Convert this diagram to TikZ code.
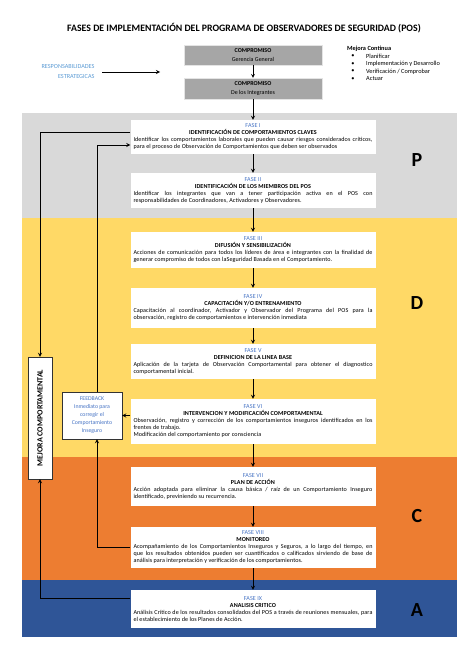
\documentclass[tikz,border=0pt]{standalone}
\usepackage{fontspec}
\setmainfont{Carlito}
\newfontfamily\cuerpo[LetterSpace=1.5]{Carlito}
\usepackage{xcolor}
\usepackage{tikz}
\usetikzlibrary{arrows,positioning}
\definecolor{grisbanda}{HTML}{D9D9D9}
\definecolor{amarillo}{HTML}{FFD966}
\definecolor{naranja}{HTML}{ED7D31}
\definecolor{azulbanda}{HTML}{2F5597}
\definecolor{griscomp}{HTML}{A6A6A6}
\definecolor{azulfase}{HTML}{4472C4}
\definecolor{azulresp}{HTML}{5B9BD5}
\hyphenpenalty=10000
\tolerance=10000
\tikzstyle{flecha} = [thick,->,>=stealth]
\tikzstyle{fase} = [rectangle, fill=white, text width=239pt, inner sep=3pt, align=justify, font=\cuerpo\fontsize{6.1}{7}\selectfont]
\tikzstyle{compromiso} = [rectangle, fill=griscomp, draw=white!70!griscomp, minimum width=138pt, minimum height=20pt, align=center, font=\fontsize{6}{9}\selectfont]
\tikzstyle{letra} = [font=\fontsize{20}{20}\selectfont\bfseries]
\tikzstyle{lista} = [inner sep=0pt, font=\fontsize{6.3}{7}\selectfont]
\newcommand{\encabezado}[2]{{\centering\textcolor{azulfase}{#1}\\\textbf{#2}\par}}

\begin{document}
\begin{tikzpicture}[x=1pt,y=-1pt]
	\useasboundingbox[fill=white] (0,0) rectangle (474,669);
	
	% Bandas de fondo:
	% P, D, C y A
	\fill[grisbanda] (22,113) rectangle (457,218);
	\fill[amarillo] (22,218) rectangle (457,457);
	\fill[naranja] (22,457) rectangle (457,580);
	\fill[azulbanda] (22,580) rectangle (457,637);
	
	\node[letra] (letraP) at (417,160) {P};
	\node[letra] (letraD) at (417,303) {D};
	\node[letra] (letraC) at (417,516) {C};
	\node[letra] (letraA) at (417,610) {A};
	
	% Titulo y compromisos:
	\node[font=\fontsize{9.8}{11}\selectfont\bfseries] (titulo) at (244,28) {FASES DE IMPLEMENTACIÓN DEL PROGRAMA DE OBSERVADORES DE SEGURIDAD (POS)};
	
	\node[compromiso] (comp1) at (253,55) {\textbf{COMPROMISO}\\Gerencia General};
	\node[compromiso] (comp2) at (253,88.5) {\textbf{COMPROMISO}\\De los Integrantes};
	
	\node[anchor=east, align=right, text=azulresp, font=\fontsize{6.2}{10}\selectfont] (resp) at (98,72) {RESPONSABILIDADES\\ESTRATEGICAS};
	\coordinate (finresp) at (160,72);
	
	\node[lista, anchor=west, font=\fontsize{6.3}{7}\selectfont\bfseries] (mejoracont) at (347,49) {Mejora Continua};
	\foreach \txt [count=\i] in {Planificar, Implementación y Desarrollo, Verificación / Comprobar, Actuar}
	{
		\node[lista] (vineta\i) at (353,49+7.5*\i) {\textbullet};
		\node[lista, anchor=west] (paso\i) at (366,49+7.5*\i) {\txt};
	}
	
	% Fases:
	\node[fase, minimum height=34pt] (faseI) at (253,137) {\encabezado{FASE I}{IDENTIFICACIÓN DE COMPORTAMIENTOS CLAVES}
		Identificar los comportamientos laborales que pueden causar riesgos considerados críticos,\linebreak para el proceso de Observación de Comportamientos que deben ser observados};
	\node[fase, minimum height=35pt] (faseII) at (253,190.5) {\encabezado{FASE II}{IDENTIFICACIÓN DE LOS MIEMBROS DEL POS}
		Identificar los integrantes que van a tener participación activa en el POS con\linebreak responsabilidades de Coordinadores, Activadores y Observadores.};
	\node[fase, minimum height=36pt] (faseIII) at (253,250) {\encabezado{FASE III}{DIFUSIÓN Y SENSIBILIZACIÓN}
		Acciones de comunicación para todos los líderes de área e integrantes con la finalidad de\linebreak generar compromiso de todos con laSeguridad Basada en el Comportamiento.};
	\node[fase, minimum height=40pt] (faseIV) at (253,308) {\encabezado{FASE IV}{CAPACITACIÓN Y/O ENTRENAMIENTO}
		Capacitación al coordinador, Activador y Observador del Programa del POS para la\linebreak observación, registro de comportamientos e intervención inmediata};
	\node[fase, minimum height=35pt] (faseV) at (253,361.5) {\encabezado{FASE V}{DEFINICION DE LA LINEA BASE}
		Aplicación de la tarjeta de Observación Comportamental para obtener el diagnostico\linebreak comportamental inicial.};
	\node[fase, minimum height=45pt] (faseVI) at (253,421.5) {\encabezado{FASE VI}{INTERVENCION Y MODIFICACIÓN COMPORTAMENTAL}
		Observación, registro y corrección de los comportamientos inseguros identificados en los\linebreak frentes de trabajo.\par
		Modificación del comportamiento por consciencia};
	\node[fase, minimum height=39pt] (faseVII) at (253,486.5) {\encabezado{FASE VII}{PLAN DE ACCIÓN}
		Acción adoptada para eliminar la causa básica / raíz de un Comportamiento Inseguro\linebreak identificado, previniendo su recurrencia.};
	\node[fase, minimum height=41pt] (faseVIII) at (253,547.5) {\encabezado{FASE VIII}{MONITOREO}
		Acompañamiento de los Comportamientos Inseguros y Seguros, a lo largo del tiempo, en\linebreak que los resultados obtenidos pueden ser cuantificados o calificados sirviendo de base de\linebreak análisis para interpretación y verificación de los comportamientos.};
	\node[fase, minimum height=38pt] (faseIX) at (253,609) {\encabezado{FASE IX}{ANALISIS CRITICO}
		Análisis Crítico de los resultados consolidados del POS a través de reuniones mensuales, para\linebreak el establecimiento de los Planes de Acción.};
	
	% Cajas laterales:
	\node[draw=black!80, fill=white, rotate=90, minimum width=122pt, minimum height=24pt, font=\fontsize{8}{8}\selectfont\bfseries] (mejora) at (40,418) {MEJORA COMPORTAMENTAL};
	\node[draw=black!80, fill=white, text=azulfase, align=center, minimum width=60pt, minimum height=47pt, font=\fontsize{5.8}{8}\selectfont] (feedback) at (92,415.5) {FEEDBACK\\Inmediato para\\corregir el\\Comportamiento\\Inseguro};
	
	% Flechas:
	\draw[flecha] ([xshift=4pt]resp.east) -- (finresp);
	\draw[flecha] (comp1) -- (comp2);
	\draw[flecha] (comp2) -- (faseI);
	\draw[flecha] (faseI) -- (faseII);
	\draw[flecha] (faseII) -- (faseIII);
	\draw[flecha] (faseIII) -- (faseIV);
	\draw[flecha] (faseIV) -- (faseV);
	\draw[flecha] (faseV) -- (faseVI);
	\draw[flecha] (faseVI) -- (faseVII);
	\draw[flecha] (faseVII) -- (faseVIII);
	\draw[flecha] (faseVIII) -- (faseIX);
	
	\draw[flecha] ([yshift=5pt]faseI.west) -| (mejora.east);
	\draw[flecha] ([yshift=11pt]faseIX.west) -| (mejora.west);
	\draw[flecha] ([xshift=5pt]feedback.north) |- ([yshift=-8pt]faseI.west);
	\draw[flecha] (faseVI.west |- feedback.east) -- (feedback.east);
	\draw[flecha] (faseVIII.west) -| ([xshift=5pt]feedback.south);
	
\end{tikzpicture}
\end{document}
